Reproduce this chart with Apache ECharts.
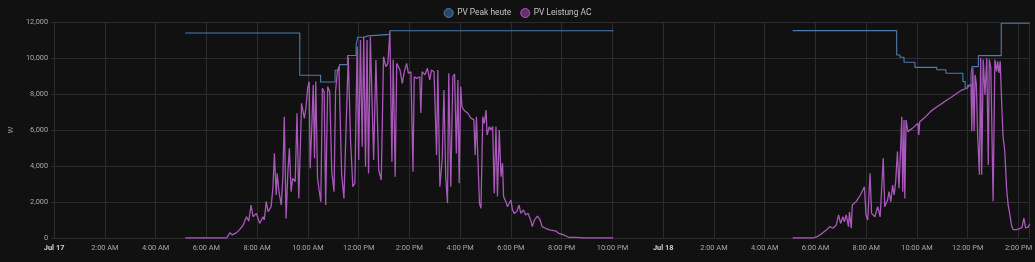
<!DOCTYPE html>
<html>
<head>
<meta charset="utf-8">
<script src="https://cdn.jsdelivr.net/npm/echarts@6/dist/echarts.min.js"></script>
<style>
html,body{margin:0;padding:0;background:#111111;}
#chart{width:1035px;height:262px;}
</style>
</head>
<body>
<div id="chart"></div>
<script>
// hours since Jul 17 00:00
const xTickLabels = ['Jul 17','2:00 AM','4:00 AM','6:00 AM','8:00 AM','10:00 AM','12:00 PM','2:00 PM','4:00 PM','6:00 PM','8:00 PM','10:00 PM',
  'Jul 18','2:00 AM','4:00 AM','6:00 AM','8:00 AM','10:00 AM','12:00 PM','2:00 PM'];
const dateTickLabels = ['Jul 17','Jul 18'];

const peakDay1 = [[5.17,11390],[9.68,9040],[10.50,8670],[11.07,9320],[11.24,9630],[11.56,10140],[11.90,10700],
  [11.96,11150],[12.20,11230],[12.37,11310],[13.22,11510],[22.04,11510]];
const peakDay2 = [[29.10,11520],[33.20,10170],[33.33,10040],[33.49,9760],[33.92,9480],[34.78,9350],[35.14,9150],
  [35.81,8690],[35.90,8320],[35.99,8480],[36.13,9090],[36.17,9520],[36.42,10130],[37.32,11930],[38.44,11930]];

const acDay1 = [[5.17,0],[6.80,0],[6.93,300],[7.02,170],[7.19,300],[7.30,450],[7.45,720],[7.58,1180],[7.67,940],[7.76,1830],
  [7.84,1180],[7.97,1370],[8.10,810],[8.23,1180],[8.28,1000],[8.36,2020],[8.43,1460],[8.49,1560],[8.55,1740],[8.62,2760],
  [8.68,4700],[8.75,2390],[8.79,3590],[8.86,2570],[8.95,1830],[9.01,3310],[9.07,6740],[9.14,1090],[9.21,3680],[9.27,4980],
  [9.34,2570],[9.40,3310],[9.50,3130],[9.57,6930],[9.64,2200],[9.70,4980],[9.75,7480],[9.86,6650],[9.92,7200],[9.99,8320],
  [10.05,8690],[10.09,3870],[10.16,6460],[10.21,8500],[10.26,4430],[10.31,8690],[10.38,3310],[10.44,2670],[10.51,2020],
  [10.57,8320],[10.64,8130],[10.70,1830],[10.78,8410],[10.86,8130],[10.94,3680],[11.03,2570],[11.09,8130],[11.16,9240],
  [11.22,9520],[11.33,3500],[11.42,2200],[11.48,2300],[11.59,10070],[11.68,5440],[11.77,2850],[11.85,3040],[11.94,10630],
  [12.00,4330],[12.07,11000],[12.14,5070],[12.20,11180],[12.27,3960],[12.33,11000],[12.39,3590],[12.46,11180],[12.53,11280],
  [12.59,4330],[12.68,9890],[12.79,3780],[12.89,3220],[12.98,10070],[13.07,9520],[13.15,9700],[13.23,11460],[13.31,4240],
  [13.36,9900],[13.44,3400],[13.50,9700],[13.63,9330],[13.72,8590],[13.80,9240],[13.89,9700],[13.96,9150],[14.06,9240],
  [14.14,3680],[14.19,8960],[14.29,8870],[14.41,8960],[14.45,6940],[14.50,9240],[14.61,9060],[14.71,9430],[14.80,8780],
  [14.87,9330],[14.97,9240],[15.07,4610],[15.12,9330],[15.20,2850],[15.29,4330],[15.36,8220],[15.43,3400],[15.50,1930],
  [15.55,9150],[15.63,2850],[15.71,8960],[15.78,9110],[15.85,4700],[15.91,8780],[15.96,3040],[16.02,8410],[16.07,7290],
  [16.17,7070],[16.30,6930],[16.43,6650],[16.54,6560],[16.59,4610],[16.64,6740],[16.69,6830],[16.76,1930],[16.82,1650],
  [16.89,6740],[16.95,6370],[17.02,7110],[17.06,5720],[17.15,6190],[17.21,6000],[17.28,6190],[17.34,2480],[17.41,6190],
  [17.47,2300],[17.54,6000],[17.61,3400],[17.67,4150],[17.71,2300],[17.80,2020],[17.86,1740],[17.93,1930],[18.00,2110],
  [18.06,1560],[18.13,1370],[18.23,1460],[18.32,1830],[18.39,1370],[18.49,1560],[18.58,1280],[18.67,1370],[18.78,1000],
  [18.84,630],[18.93,1000],[19.04,1220],[19.14,1040],[19.23,630],[19.36,540],[19.56,440],[19.75,400],[19.88,260],
  [20.08,170],[20.27,40],[20.60,40],[20.86,0],[22.03,0]];

const acDay2 = [[29.10,0],[29.91,0],[30.11,110],[30.30,300],[30.43,440],[30.56,630],[30.69,540],[30.82,720],[30.91,1280],
  [30.99,810],[31.08,1180],[31.14,900],[31.21,1280],[31.30,630],[31.34,1460],[31.41,540],[31.45,1830],[31.60,2020],
  [31.77,2390],[31.93,2850],[31.99,1280],[32.06,1000],[32.15,3590],[32.21,1370],[32.34,1180],[32.45,1740],[32.55,1180],
  [32.67,4430],[32.73,1740],[32.84,2110],[32.90,2570],[32.97,2020],[33.04,2940],[33.10,2390],[33.16,3130],[33.23,4800],
  [33.29,2760],[33.36,5170],[33.40,6740],[33.44,2570],[33.49,6560],[33.52,2200],[33.57,6560],[33.64,5910],[33.82,6090],
  [34.04,6370],[34.07,5720],[34.11,6460],[34.34,6740],[34.53,7020],[34.79,7290],[34.99,7480],[35.18,7670],[35.38,7850],
  [35.57,8040],[35.77,8220],[35.96,8320],[36.05,8450],[36.13,8520],[36.16,5930],[36.20,9440],[36.25,5930],[36.29,9070],
  [36.34,8520],[36.39,5740],[36.46,3520],[36.51,10000],[36.55,3520],[36.61,9910],[36.68,7960],[36.75,10000],[36.81,4070],
  [36.85,9910],[36.91,9440],[37.00,2040],[37.07,9910],[37.14,9260],[37.18,9820],[37.23,9170],[37.28,9820],[37.33,7780],
  [37.39,5650],[37.46,4820],[37.53,2780],[37.59,1850],[37.66,1300],[37.72,740],[37.79,460],[37.85,560],[37.92,460],
  [38.05,520],[38.14,590],[38.21,1110],[38.28,560],[38.37,590],[38.44,780]];

const peakColor = '#4d7cad';
const acColor = '#a957ba';
const gridColor = '#2c2c2c';
const labelColor = '#a8a8a8';

const chart = echarts.init(document.getElementById('chart'), null, {renderer: 'canvas'});
chart.setOption({
  backgroundColor: '#111111',
  animation: false,
  textStyle: {fontFamily: 'Roboto'},
  legend: {
    top: 3,
    left: 'center',
    icon: 'circle',
    itemWidth: 9,
    itemHeight: 9,
    itemGap: 9,
    textStyle: {color: '#c4c4c4', fontSize: 8.4, fontFamily: 'Roboto', padding: [0, 0, 0, -1]},
    data: [
      {name: 'PV Peak heute', itemStyle: {color: '#29476a', borderColor: '#4d7cad', borderWidth: 1}},
      {name: 'PV Leistung AC', itemStyle: {color: '#63306d', borderColor: '#a957ba', borderWidth: 1}}
    ]
  },
  grid: {left: 46, right: 5, top: 22, bottom: 24, containLabel: false},
  xAxis: {
    type: 'value',
    min: 0,
    max: 38.44,
    interval: 2,
    axisLine: {show: true, lineStyle: {color: gridColor}},
    axisTick: {show: false},
    splitLine: {show: true, lineStyle: {color: gridColor, width: 1}},
    axisLabel: {
      color: labelColor,
      fontSize: 7.4,
      margin: 7,
      formatter: function (v) {
        const s = xTickLabels[Math.round(v / 2)] || '';
        return dateTickLabels.indexOf(s) >= 0 ? '{b|' + s + '}' : s;
      },
      rich: {b: {fontWeight: 'bold', color: '#cfcfcf', fontSize: 7.4, fontFamily: 'Roboto'}}
    }
  },
  yAxis: {
    type: 'value',
    min: 0,
    max: 12000,
    interval: 2000,
    name: 'W',
    nameLocation: 'middle',
    nameGap: 36,
    nameTextStyle: {color: labelColor, fontSize: 7.4},
    axisLine: {show: false},
    axisTick: {show: true, length: 3, lineStyle: {color: gridColor}},
    splitLine: {show: true, lineStyle: {color: gridColor, width: 1}},
    axisLabel: {
      color: labelColor,
      fontSize: 7.4,
      margin: 6,
      formatter: function (v) { return v.toLocaleString('en-US'); }
    }
  },
  series: [
    {name: 'PV Peak heute', type: 'line', step: 'end', data: peakDay1, showSymbol: false, z: 3,
      lineStyle: {color: peakColor, width: 1.1}, itemStyle: {color: peakColor}},
    {name: 'PV Peak heute', type: 'line', step: 'end', data: peakDay2, showSymbol: false, z: 3,
      lineStyle: {color: peakColor, width: 1.1}, itemStyle: {color: peakColor}},
    {name: 'PV Leistung AC', type: 'line', data: acDay1, showSymbol: false, z: 2,
      lineStyle: {color: acColor, width: 1.3}, itemStyle: {color: acColor}},
    {name: 'PV Leistung AC', type: 'line', data: acDay2, showSymbol: false, z: 2,
      lineStyle: {color: acColor, width: 1.3}, itemStyle: {color: acColor}}
  ]
});
</script>
</body>
</html>
